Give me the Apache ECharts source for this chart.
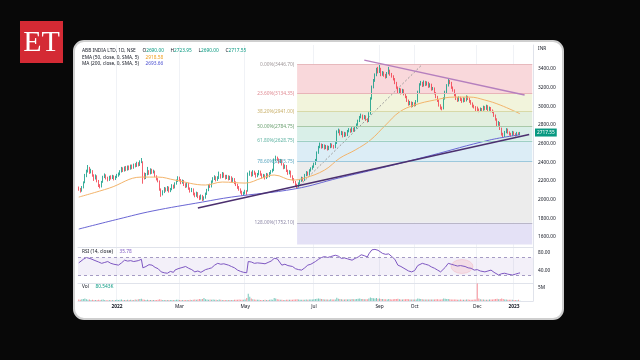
<!DOCTYPE html>
<html><head><meta charset="utf-8">
<script src="https://cdn.jsdelivr.net/npm/echarts@6/dist/echarts.min.js"></script>
<style>html,body{margin:0;padding:0;background:#080808}#c{width:640px;height:360px}</style>
</head><body><div id="c"></div>
<script>
// ---- Data ----
const opens = [
2120,2110,2095,2130,2185,2255,2300,2335,2290,2305,
2260,2225,2250,2200,2155,2140,2190,2240,2260,2235,
2210,2245,2230,2250,2220,2240,2260,2270,2300,2330,
2310,2345,2320,2350,2330,2360,2340,2375,2360,2390,
2370,2400,2400,2265,2230,2270,2300,2280,2320,2290,
2300,2250,2220,2200,2110,2060,2080,2120,2100,2130,
2090,2110,2150,2130,2170,2200,2230,2210,2180,2200,
2160,2140,2170,2120,2090,2110,2060,2040,2070,2030,
2010,2040,2000,2020,2060,2100,2150,2140,2190,2220,
2240,2210,2230,2260,2240,2280,2250,2230,2250,2220,
2240,2200,2220,2180,2160,2130,2110,2080,2060,2070,
2090,2090,2270,2290,2260,2300,2280,2250,2270,2300,
2270,2240,2260,2230,2270,2250,2280,2300,2310,2420,
2450,2430,2400,2420,2380,2340,2360,2310,2280,2300,
2250,2220,2190,2160,2140,2170,2200,2230,2210,2260,
2290,2270,2310,2330,2350,2380,2420,2500,2560,2590,
2560,2580,2550,2570,2540,2560,2590,2570,2560,2600,
2720,2740,2700,2720,2680,2710,2690,2730,2750,2730,
2760,2740,2770,2800,2840,2880,2900,2870,2890,2860,
2840,2920,3080,3200,3270,3330,3390,3370,3400,3340,
3360,3330,3310,3350,3380,3340,3320,3290,3250,3200,
3150,3180,3140,3170,3130,3100,3060,3020,3040,3000,
3030,3010,3050,3150,3230,3250,3220,3260,3230,3250,
3210,3230,3180,3190,3140,3100,3060,3010,2980,2970,
3080,3150,3220,3270,3250,3200,3170,3120,3080,3060,
3090,3070,3050,3080,3060,3100,3080,3050,3030,3000,
2990,2985,2955,2950,2970,2960,2990,2970,3000,2960,
2980,2950,2940,2900,2860,2800,2820,2760,2700,2680,
2720,2750,2720,2700,2690,2720,2700,2690,2710,2690];
const closes = [
2110,2090,2130,2180,2260,2300,2340,2290,2310,2260,
2220,2250,2200,2150,2140,2190,2240,2260,2230,2210,
2240,2230,2250,2220,2240,2260,2270,2300,2330,2310,
2340,2320,2350,2330,2360,2340,2370,2360,2390,2370,
2400,2420,2260,2230,2270,2300,2280,2320,2290,2300,
2250,2220,2200,2110,2060,2080,2120,2100,2130,2090,
2110,2150,2130,2170,2200,2230,2210,2180,2200,2160,
2140,2170,2120,2090,2110,2060,2040,2070,2030,2010,
2040,2000,2020,2060,2100,2150,2140,2190,2220,2240,
2210,2230,2260,2240,2280,2250,2230,2250,2220,2240,
2200,2220,2180,2160,2130,2110,2080,2060,2070,2090,
2080,2270,2290,2260,2300,2280,2250,2270,2300,2270,
2240,2260,2230,2270,2250,2280,2300,2310,2420,2450,
2430,2400,2420,2380,2340,2360,2310,2280,2300,2250,
2220,2190,2160,2140,2170,2200,2230,2210,2260,2290,
2270,2310,2330,2350,2380,2420,2500,2560,2590,2560,
2580,2550,2570,2540,2560,2590,2570,2560,2600,2720,
2740,2700,2720,2680,2710,2690,2730,2750,2730,2760,
2740,2770,2800,2840,2880,2900,2870,2890,2860,2840,
2920,3080,3200,3270,3330,3390,3370,3400,3340,3360,
3330,3310,3350,3380,3340,3320,3290,3250,3200,3150,
3180,3140,3170,3130,3100,3060,3020,3040,3000,3030,
3010,3050,3150,3230,3250,3220,3260,3230,3250,3210,
3230,3180,3190,3140,3100,3060,3010,2980,2970,3080,
3150,3220,3270,3250,3200,3170,3120,3080,3060,3090,
3070,3050,3080,3060,3100,3080,3050,3030,3000,2990,
2960,2955,2950,2970,2960,2990,2970,3000,2960,2980,
2950,2940,2900,2860,2800,2820,2760,2700,2680,2720,
2750,2720,2700,2690,2720,2700,2690,2710,2700,2717.55];
const highs = [
2140,2125,2145,2195,2275,2320,2370,2350,2330,2315,
2270,2270,2260,2210,2165,2200,2255,2280,2270,2245,
2255,2260,2265,2260,2255,2275,2290,2315,2350,2345,
2355,2360,2365,2365,2375,2375,2385,2390,2405,2400,
2420,2445,2410,2290,2285,2350,2315,2335,2330,2320,
2310,2260,2230,2205,2120,2100,2135,2130,2145,2140,
2125,2165,2160,2185,2215,2250,2245,2220,2215,2210,
2175,2185,2180,2130,2125,2120,2075,2085,2080,2045,
2055,2050,2035,2075,2115,2165,2170,2205,2240,2260,
2250,2250,2300,2275,2295,2290,2265,2265,2260,2255,
2250,2235,2230,2195,2170,2145,2120,2095,2085,2105,
2100,2290,2310,2300,2315,2310,2290,2285,2315,2310,
2280,2275,2270,2285,2280,2295,2315,2330,2440,2470,
2460,2440,2435,2430,2390,2375,2370,2320,2315,2310,
2260,2230,2200,2170,2185,2215,2245,2240,2275,2305,
2300,2325,2345,2365,2395,2435,2515,2575,2610,2600,
2595,2590,2585,2580,2575,2605,2600,2585,2615,2740,
2760,2750,2735,2730,2725,2720,2745,2765,2760,2775,
2770,2785,2815,2855,2895,2920,2910,2905,2900,2870,
2935,3095,3220,3290,3350,3410,3420,3446.7,3410,3375,
3370,3345,3365,3420,3390,3355,3330,3300,3260,3210,
3195,3190,3185,3180,3140,3110,3070,3055,3050,3045,
3040,3065,3165,3245,3270,3260,3275,3270,3265,3260,
3245,3240,3205,3200,3150,3110,3070,3020,2995,3095,
3165,3235,3290,3280,3260,3210,3180,3130,3095,3105,
3100,3085,3095,3090,3115,3110,3090,3065,3040,3015,
3000,2995,2975,2985,2980,3005,3000,3015,3010,2995,
2990,2965,2950,2910,2870,2840,2830,2770,2715,2735,
2765,2760,2730,2715,2735,2730,2710,2725,2720,2723.95];
const lows = [
2095,2075,2085,2120,2175,2240,2290,2275,2280,2245,
2200,2215,2185,2135,2120,2130,2180,2230,2215,2195,
2200,2215,2220,2205,2210,2230,2245,2260,2290,2295,
2300,2305,2310,2315,2320,2325,2330,2345,2350,2355,
2360,2390,2170,2215,2220,2260,2265,2270,2275,2280,
2240,2205,2185,2095,2030,2045,2070,2085,2090,2075,
2080,2100,2115,2120,2160,2190,2195,2165,2170,2145,
2125,2130,2105,2075,2080,2045,2025,2030,2015,1995,
2000,1985,1990,2010,2050,2090,2125,2130,2180,2210,
2195,2200,2220,2225,2230,2235,2215,2220,2205,2210,
2185,2190,2165,2145,2115,2095,2065,2045,2040,2055,
2050,2085,2255,2245,2250,2265,2235,2240,2260,2255,
2225,2230,2215,2220,2235,2240,2270,2290,2305,2410,
2415,2385,2390,2365,2325,2330,2295,2265,2270,2235,
2205,2175,2145,2123,2130,2160,2190,2195,2200,2250,
2255,2260,2300,2320,2340,2370,2410,2490,2550,2545,
2550,2535,2540,2525,2530,2550,2555,2545,2550,2595,
2710,2685,2690,2665,2670,2675,2680,2720,2715,2720,
2725,2730,2760,2790,2830,2870,2855,2860,2845,2825,
2830,2910,3070,3190,3260,3320,3350,3355,3320,3325,
3315,3295,3300,3340,3325,3305,3275,3235,3185,3135,
3140,3125,3130,3115,3085,3045,3005,3010,2985,2990,
2995,3000,3040,3140,3220,3205,3210,3215,3220,3195,
3200,3165,3170,3125,3085,3045,2995,2965,2955,2965,
3070,3140,3210,3235,3185,3155,3105,3065,3045,3050,
3055,3035,3040,3045,3050,3065,3035,3015,2985,2975,
2945,2940,2935,2940,2945,2950,2955,2960,2945,2950,
2935,2925,2885,2845,2785,2790,2745,2685,2665,2670,
2710,2705,2685,2675,2680,2685,2675,2680,2690,2690];
// volume in thousands
const volumes = [
520,430,610,780,900,650,480,520,390,440,
360,410,350,470,380,420,560,390,300,280,
350,310,330,290,360,420,380,450,510,400,
380,350,420,390,460,410,380,520,440,610,
700,880,540,420,390,450,380,360,410,390,
330,360,450,620,480,390,410,350,380,340,
360,400,330,380,420,450,390,360,340,380,
410,360,390,420,350,480,520,430,560,700,
620,780,1100,650,520,480,600,450,520,480,
420,390,510,430,380,360,340,380,350,360,
410,380,420,450,470,520,480,430,460,520,
1150,2700,1600,900,640,520,480,430,450,400,
380,360,420,390,410,450,520,480,1100,900,
650,520,480,440,410,390,420,450,470,500,
460,510,540,620,560,480,430,500,470,520,
490,530,560,540,620,700,880,960,820,700,
640,580,560,540,500,620,560,520,600,1200,
850,700,640,580,560,620,600,640,580,700,
620,680,760,820,900,780,700,640,660,620,
900,1300,1150,1000,950,1100,880,920,780,700,
650,620,580,700,640,600,620,700,760,820,
640,600,580,620,660,720,680,560,600,540,
520,600,900,820,700,640,600,560,540,520,
580,560,540,600,620,660,580,560,620,900,
800,720,760,640,600,560,540,520,500,480,
520,480,460,500,540,520,500,460,480,520,
560,6500,900,640,560,520,480,500,460,520,
540,560,620,700,820,640,760,900,700,560,
520,480,440,460,420,400,380,360,420,80.543];
// EMA 50 / MA 200 read at sample bars [barIndex, value]
const emaIdx = [0,20,41,52,63,83,94,109,120,128,140,148,161,171,181,191,201,210,220,233,246,256,266,276,289];
const emaVal = [2027,2123,2241,2241,2209,2156,2188,2177,2231,2263,2209,2231,2316,2444,2530,2637,2798,2937,3012,3065,3097,3097,3065,3012,2918.58];
const maIdx = [0,26,48,81,100,142,170,197,230,269,289];
const maVal = [1685,1792,1877,1974,2027,2116,2230,2334,2470,2637,2693.66];
// RSI 14 read at sample bars
const rsiIdx = [0,1,3,5,6,8,10,11,13,15,17,19,21,23,26,28,30,32,34,36,37,39,41,42,44,46,48,50,52,54,56,58,60,62,63,65,67,70,72,74,76,78,80,81,83,85,87,89,91,93,95,98,100,102,104,106,108,109,110,111,113,115,117,120,122,124,126,128,130,131,133,135,137,140,142,144,146,148,150,152,155,157,159,161,163,165,168,170,172,174,176,179,181,183,185,187,189,190,192,194,195,196,197,199,201,203,205,207,209,211,213,214,216,218,220,222,225,227,229,231,233,235,237,238,240,242,244,246,248,250,253,255,257,259,261,263,266,268,270,272,275,277,279,281,284,286,288,289];
const rsiVal = [58,61,66,70,72,67,64,65,60,57,59,61,57,55,53,58,64,62,63,61,64,63,66,47,50,54,53,48,45,38,36,35,39,37,42,45,47,50,46,43,38,40,37,39,43,45,47,53,57,55,56,53,50,47,42,39,37,35,36,61,60,57,58,57,56,59,62,68,67,63,53,55,52,50,45,43,42,47,53,55,61,66,70,72,70,72,75,73,68,69,67,64,68,71,76,74,71,78,87,88,90,86,84,79,77,78,72,66,53,50,46,42,40,38,41,52,57,55,53,49,46,42,38,35,48,57,55,53,51,52,50,47,46,42,43,40,38,40,42,37,31,34,35,33,31,33,35,35.78];
// drawings
const supportLine = [[78,1910],[295,2697]];
const resistLine = [[187,3493],[292,3119]];
const fibTrend = [[143,2122.8],[225,3446.7]];
const fibStart = 143, fibEnd = 297;
const fibLevels = [0,0.236,0.382,0.5,0.618,0.786,1.28];
const fibPrices = [3446.70,3134.35,2941.00,2784.75,2628.75,2405.75,1752.10];
const fibBottom = 1520;
const priceTicks = [1600,1800,2000,2200,2400,2600,2800,3000,3200,3400];
const rsiTicks = [80,40];
const volTicks = [5000];
const tickIdx = [25,66,109,154,197,220,261,285];
const tickText = ['2022','Mar','May','Jul','Sep','Oct','Dec','2023'];
const lastO = 2690.00, lastH = 2723.95, lastL = 2690.00, lastC = 2717.55;
const lastEma = 2918.58, lastMa = 2693.66, lastRsi = 35.78, lastVol = '80.543K';

// ---- Styling ----
const FONT = '"Noto Sans", sans-serif';
const UP = '#089981', DN = '#f23645';
const bandColors = ['#f9d8db','#f2f4dc','#e3efdf','#d9efe8','#dcedf6','#ececec','#e4e1f6'];
const lineColors = ['#e7b9bd','#e8b4b8','#d8d9a8','#a9c9a9','#9fd0c4','#9cc8dc','#b9b6c8'];
const labelColors = ['#a0989a','#e08a92','#c9b06a','#6a9f6f','#5fb3a3','#5aa6c0','#8f8aa8'];

const N = 298;
const categories = Array.from({length: N}, (_, i) => String(i));
const candleData = closes.map((c, i) => [opens[i], c, lows[i], highs[i]]);
const volData = volumes.map((v, i) => ({value: v, itemStyle: {color: closes[i] >= opens[i] ? 'rgba(8,153,129,0.55)' : 'rgba(242,54,69,0.55)'}}));
const pairs = (a, b) => a.map((x, i) => [x, b[i]]);

const fibAreas = fibPrices.map((p, k) => [
  {coord: [fibStart, p], itemStyle: {color: bandColors[k]}},
  {coord: [fibEnd, k < fibPrices.length - 1 ? fibPrices[k + 1] : fibBottom]}
]);
const fibLines = fibPrices.map((p, k) => [
  {coord: [fibStart, p], lineStyle: {color: lineColors[k], width: 1, type: 'solid'},
   label: {show: true, position: 'start', distance: 3, formatter: (fibLevels[k] * 100).toFixed(2) + '%(' + p.toFixed(2) + ')',
           color: labelColors[k], fontSize: 4.8, fontFamily: FONT}},
  {coord: [fibEnd, p]}
]);

const chart = echarts.init(document.getElementById('c'));
const gridL = 78, gridW = 455;
const xAxisBase = (gi, showLabel) => ({
  gridIndex: gi, type: 'category', data: categories, boundaryGap: true,
  axisLine: {show: true, lineStyle: {color: '#e0e3eb', width: 1}},
  axisTick: {show: false},
  splitLine: {show: true, interval: (idx) => tickIdx.includes(idx), lineStyle: {color: '#f0f2f6', width: 1}},
  axisLabel: showLabel ? {
    show: true, interval: (idx) => tickIdx.includes(idx), margin: 3,
    formatter: (v, idx) => {
      const t = tickText[tickIdx.indexOf(Number(v))];
      return (t === '2022' || t === '2023') ? '{b|' + t + '}' : t;
    },
    fontSize: 4.8, color: '#131722', fontFamily: FONT,
    rich: {b: {fontSize: 4.8, fontWeight: 'bold', color: '#131722', fontFamily: FONT}}
  } : {show: false}
});
const yLabel = (vals, fmt) => ({customValues: vals, formatter: fmt, fontSize: 4.8, color: '#131722', margin: 5, fontFamily: FONT});

chart.setOption({
  animation: false,
  backgroundColor: '#080808',
  graphic: [
    {type: 'rect', z: -10, shape: {x: 20, y: 21, width: 43, height: 42}, style: {fill: '#d42a34'}},
    {type: 'text', z: -9, style: {x: 41.5, y: 43, text: 'ET', fill: '#ffffff', font: '30px "Liberation Serif", serif', align: 'center', verticalAlign: 'middle', textAlign: 'center', textVerticalAlign: 'middle'}},
    {type: 'rect', z: -10, shape: {x: 74, y: 41, width: 489, height: 278, r: 10}, style: {fill: '#ffffff', stroke: '#cfcfcf', lineWidth: 2}},
    {type: 'text', z: 50, style: {x: 82, y: 50.7, verticalAlign: 'middle', textVerticalAlign: 'middle',
      text: '{d|ABB INDIA LTD, 1D, NSE}  {d|O}{g|' + lastO.toFixed(2) + '}  {d|H}{g|' + lastH.toFixed(2) + '}  {d|L}{g|' + lastL.toFixed(2) + '}  {d|C}{g|' + lastC.toFixed(2) + '}',
      rich: {d: {fill: '#131722', color: '#131722', fontSize: 4.8, fontFamily: FONT}, g: {fill: UP, color: UP, fontSize: 4.8, fontFamily: FONT}}}},
    {type: 'text', z: 50, style: {x: 82, y: 57.3, verticalAlign: 'middle', textVerticalAlign: 'middle',
      text: '{d|EMA (50, close, 0, SMA, 5)}  {v|' + lastEma.toFixed(2) + '}',
      rich: {d: {fill: '#131722', color: '#131722', fontSize: 4.8, fontFamily: FONT}, v: {fill: '#f0a020', color: '#f0a020', fontSize: 4.8, fontFamily: FONT}}}},
    {type: 'text', z: 50, style: {x: 82, y: 64, verticalAlign: 'middle', textVerticalAlign: 'middle',
      text: '{d|MA (200, close, 0, SMA, 5)}  {v|' + lastMa.toFixed(2) + '}',
      rich: {d: {fill: '#131722', color: '#131722', fontSize: 4.8, fontFamily: FONT}, v: {fill: '#4a4fd0', color: '#4a4fd0', fontSize: 4.8, fontFamily: FONT}}}},
    {type: 'text', z: 50, style: {x: 82, y: 251.5, verticalAlign: 'middle', textVerticalAlign: 'middle',
      text: '{d|RSI (14, close)}  {v|' + lastRsi.toFixed(2) + '}',
      rich: {d: {fill: '#131722', color: '#131722', fontSize: 4.8, fontFamily: FONT}, v: {fill: '#7e57c2', color: '#7e57c2', fontSize: 4.8, fontFamily: FONT}}}},
    {type: 'text', z: 50, style: {x: 82, y: 287, verticalAlign: 'middle', textVerticalAlign: 'middle',
      text: '{d|Vol}  {v|' + lastVol + '}',
      rich: {d: {fill: '#131722', color: '#131722', fontSize: 4.8, fontFamily: FONT}, v: {fill: UP, color: UP, fontSize: 4.8, fontFamily: FONT}}}},
    {type: 'text', z: 50, style: {x: 538, y: 49, verticalAlign: 'middle', textVerticalAlign: 'middle', text: 'INR', fill: '#131722', fontSize: 4.8, fontFamily: FONT}}
  ],
  grid: [
    {left: gridL, width: gridW, top: 45, height: 202},
    {left: gridL, width: gridW, top: 247, height: 36},
    {left: gridL, width: gridW, top: 283, height: 18}
  ],
  xAxis: [xAxisBase(0, false), xAxisBase(1, false), xAxisBase(2, true)],
  yAxis: [
    {gridIndex: 0, type: 'value', position: 'right', min: 1493, max: 3654,
     axisLine: {show: true, lineStyle: {color: '#e0e3eb'}}, axisTick: {show: false}, splitLine: {show: false},
     axisLabel: yLabel(priceTicks, v => Number(v).toFixed(2))},
    {gridIndex: 1, type: 'value', position: 'right', min: 13.3, max: 93.3,
     axisLine: {show: true, lineStyle: {color: '#e0e3eb'}}, axisTick: {show: false}, splitLine: {show: false},
     axisLabel: yLabel(rsiTicks, v => Number(v).toFixed(2))},
    {gridIndex: 2, type: 'value', position: 'right', min: 0, max: 6670,
     axisLine: {show: true, lineStyle: {color: '#e0e3eb'}}, axisTick: {show: false}, splitLine: {show: false},
     axisLabel: yLabel(volTicks, v => (v / 1000) + 'M')}
  ],
  series: [
    {type: 'line', name: 'fib', xAxisIndex: 0, yAxisIndex: 0, data: [], z: 1, silent: true,
     markArea: {silent: true, data: fibAreas},
     markLine: {silent: true, symbol: ['none', 'none'], data: fibLines}},
    {type: 'line', name: 'fibTrend', xAxisIndex: 0, yAxisIndex: 0, data: fibTrend, z: 2, showSymbol: false, silent: true,
     lineStyle: {color: '#9a9a9a', width: 1, type: [2, 2]}},
    {type: 'candlestick', name: 'ABB', xAxisIndex: 0, yAxisIndex: 0, data: candleData, z: 3, barWidth: '55%',
     itemStyle: {color: UP, color0: DN, borderColor: UP, borderColor0: DN, borderWidth: 0.8},
     markLine: {silent: true, symbol: ['none', 'none'],
       data: [{yAxis: lastC, lineStyle: {color: 'rgba(8,153,129,0)', width: 0},
               label: {show: true, position: 'end', distance: 2, formatter: lastC.toFixed(2), color: '#fff',
                       backgroundColor: UP, padding: [1.5, 2], fontSize: 4.8, fontFamily: FONT}}]}},
    {type: 'line', name: 'EMA50', xAxisIndex: 0, yAxisIndex: 0, data: pairs(emaIdx, emaVal), z: 4, showSymbol: false, smooth: 0.4,
     lineStyle: {color: '#f3b46b', width: 1}},
    {type: 'line', name: 'MA200', xAxisIndex: 0, yAxisIndex: 0, data: pairs(maIdx, maVal), z: 4, showSymbol: false, smooth: 0.4,
     lineStyle: {color: '#6a66d4', width: 1}},
    {type: 'line', name: 'support', xAxisIndex: 0, yAxisIndex: 0, data: supportLine, z: 5, showSymbol: false,
     lineStyle: {color: '#4b2f6e', width: 1.6}},
    {type: 'line', name: 'resist', xAxisIndex: 0, yAxisIndex: 0, data: resistLine, z: 5, showSymbol: false,
     lineStyle: {color: '#b57fbe', width: 1.3}},
    {type: 'line', name: 'RSI', xAxisIndex: 1, yAxisIndex: 1, data: pairs(rsiIdx, rsiVal), z: 4, showSymbol: false,
     lineStyle: {color: '#7e57c2', width: 1},
     markArea: {silent: true, itemStyle: {color: 'rgba(126,87,194,0.09)'}, data: [[{yAxis: 70}, {yAxis: 30}]]},
     markLine: {silent: true, symbol: ['none', 'none'], label: {show: false},
       lineStyle: {color: '#a59bc4', type: [3, 3], width: 1}, data: [{yAxis: 70}, {yAxis: 30}]}},
    {type: 'scatter', name: 'mark', xAxisIndex: 1, yAxisIndex: 1, data: [[251, 50]], z: 3, silent: true,
     symbol: 'circle', symbolSize: [22, 14], itemStyle: {color: 'rgba(242,54,69,0.13)', borderColor: 'rgba(242,54,69,0.3)', borderWidth: 0.5}},
    {type: 'bar', name: 'Vol', xAxisIndex: 2, yAxisIndex: 2, data: volData, barWidth: '60%', z: 3}
  ]
});
</script></body></html>
